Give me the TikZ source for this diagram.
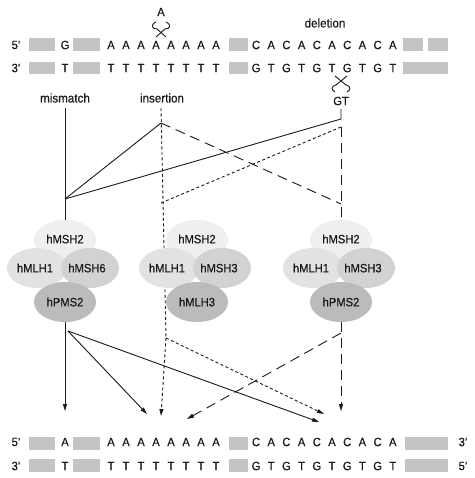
\documentclass[tikz,border=0pt]{standalone}
\usepackage{fontspec}
\setmainfont{Liberation Sans}[FakeStretch=0.93,FakeBold=0.6]
\usetikzlibrary{arrows.meta}
\definecolor{cA}{HTML}{EFEFEF}
\definecolor{cB}{HTML}{E2E2E2}
\definecolor{cC}{HTML}{D2D2D2}
\definecolor{cD}{HTML}{BBBBBB}
\definecolor{boxc}{HTML}{C4C4C4}
\definecolor{ink}{HTML}{1A1A1A}
\tikzset{
  dnabox/.style={fill=boxc,draw=none},
  base/.style={font=\fontsize{12}{14}\selectfont,text=ink,inner sep=0pt},
  lab/.style={font=\fontsize{12.5}{14}\selectfont,text=ink,inner sep=0pt},
  prot/.style={font=\fontsize{12}{14}\selectfont,text=ink,inner sep=0pt},
  conn/.style={draw=ink,line width=0.9pt},
  dotl/.style={conn,dash pattern=on 3pt off 2.5pt},
  dashl/.style={conn,dash pattern=on 10pt off 6pt},
  tip/.style={-{Triangle[length=7pt,width=4pt]}},
  brace/.style={draw=ink,line width=0.9pt}
}
\newcommand{\cplx}[6]{%
  \fill[cA] (#1,240) ellipse [x radius=31, y radius=20];
  \node[prot] (#2t) at (#1,239) {#3};
  \fill[cB] (#1-28,268) ellipse [x radius=30, y radius=20];
  \node[prot] (#2l) at (#1-30,268) {#4};
  \fill[cC] (#1+25,268) ellipse [x radius=29, y radius=20];
  \node[prot] (#2r) at (#1+22,268) {#5};
  \fill[cD] (#1,302) ellipse [x radius=31, y radius=20];
  \node[prot] (#2b) at (#1,302) {#6};
}
\begin{document}
\begin{tikzpicture}[x=1pt,y=-1pt]
\useasboundingbox (0,0) rectangle (474,478);
\fill[white] (0,0) rectangle (474,478);

% ---------- top DNA ----------
\node[base] (t5) at (16,45) {5’};
\node[base] (t3) at (16,68) {3’};
\fill[dnabox] (29,38) rectangle (55,51);
\fill[dnabox] (73,38) rectangle (100,51);
\fill[dnabox] (229,38) rectangle (248,51);
\fill[dnabox] (403,38) rectangle (423,51);
\fill[dnabox] (428,38) rectangle (448,51);
\fill[dnabox] (29,62) rectangle (55,74);
\fill[dnabox] (73,62) rectangle (100,74);
\fill[dnabox] (229,62) rectangle (248,74);
\fill[dnabox] (403,62) rectangle (448,74);
\node[base] (tg) at (65,45) {G};
\node[base] (tt) at (65,68) {T};
\foreach \i in {0,...,7} {
  \node[base] (ta\i) at (111+15*\i,45) {A};
  \node[base] (tb\i) at (111+15*\i,68) {T};
}
\foreach \i/\u/\l in {0/C/G,1/A/T,2/C/G,3/A/T,4/C/G,5/A/T,6/C/G,7/A/T,8/C/G,9/A/T} {
  \node[base] (tc\i) at (256+15.2*\i,45) {\u};
  \node[base] (td\i) at (256+15.2*\i,68) {\l};
}

% insertion brace
\node[base] (insA) at (161,12) {A};
\draw[brace] (156,22) .. controls (150,25) and (152,29) .. (157,29) -- (166,37);
\draw[brace] (166,22) .. controls (172,25) and (170,29) .. (165,29) -- (156,37);
% deletion brace
\node[lab] (del) at (325,23) {deletion};
\draw[brace] (335,76) -- (346,85) .. controls (351,86) and (351,90) .. (347,92);
\draw[brace] (347,76) -- (336,85) .. controls (331,86) and (331,90) .. (335,92);
\node[base] (gt) at (341,101) {GT};

\node[lab] (mm) at (65,98) {mismatch};
\node[lab] (ins) at (162,98) {insertion};

% ---------- coordinates ----------
\coordinate (mmTop) at (65,108);
\coordinate (junc) at (65,199);
\coordinate (insTop) at (161,108);
\coordinate (insJ) at (161,123);
\coordinate (insL) at (161,203);
\coordinate (gtTop) at (341,109);
\coordinate (gtJ) at (341,119);
\coordinate (gtD) at (341,127);
\coordinate (delL) at (341,204);
\coordinate (c1in) at (65,222);
\coordinate (c3in) at (341,222);
\coordinate (c1out) at (65,322);
\coordinate (c1s) at (68,331);
\coordinate (c2s) at (166,338);
\coordinate (c3out) at (341,322);
\coordinate (c3s) at (341,333);
\coordinate (e1) at (65,411);
\coordinate (e2) at (147,414);
\coordinate (e3) at (319,422);
\coordinate (e4) at (161,416);
\coordinate (e5) at (324,414);
\coordinate (e6) at (187,419);
\coordinate (e7) at (341,411);

% ---------- upper connectors ----------
\draw[conn] (mmTop) -- (c1in);
\draw[conn] (junc) -- (insJ);
\draw[conn] (gtTop) -- (gtJ) -- (junc);
\draw[dotl] (insTop) -- (c2s);
\draw[dotl] (gtD) -- (insL);
\draw[dashl] (insJ) -- (delL);
\draw[dashl] (gtD) -- (c3in);

% ---------- lower connectors ----------
\draw[conn,tip] (c1out) -- (e1);
\draw[conn,tip] (c1s) -- (e2);
\draw[conn,tip] (c1s) -- (e3);
\draw[dotl,tip] (c2s) -- (e4);
\draw[dotl,tip] (c2s) -- (e5);
\draw[dashl,tip] (c3s) -- (e6);
\draw[dashl,tip] (c3out) -- (e7);

% ---------- complexes ----------
\cplx{65}{p}{hMSH2}{hMLH1}{hMSH6}{hPMS2}
\cplx{197}{q}{hMSH2}{hMLH1}{hMSH3}{hMLH3}
\cplx{341}{r}{hMSH2}{hMLH1}{hMSH3}{hPMS2}

% ---------- bottom DNA ----------
\node[base] (b5) at (16,442) {5’};
\node[base] (b3) at (16,466) {3’};
\node[base] (b3r) at (463,442) {3’};
\node[base] (b5r) at (463,466) {5’};
\fill[dnabox] (29,437) rectangle (55,450);
\fill[dnabox] (73,437) rectangle (100,450);
\fill[dnabox] (229,437) rectangle (248,450);
\fill[dnabox] (405,437) rectangle (448,450);
\fill[dnabox] (29,459) rectangle (55,472);
\fill[dnabox] (73,459) rectangle (100,472);
\fill[dnabox] (229,459) rectangle (248,472);
\fill[dnabox] (405,459) rectangle (448,472);
\node[base] (ba) at (65,442) {A};
\node[base] (bt) at (65,466) {T};
\foreach \i in {0,...,7} {
  \node[base] (ba\i) at (111+15*\i,442) {A};
  \node[base] (bb\i) at (111+15*\i,466) {T};
}
\foreach \i/\u/\l in {0/C/G,1/A/T,2/C/G,3/A/T,4/C/G,5/A/T,6/C/G,7/A/T,8/C/G,9/A/T} {
  \node[base] (bc\i) at (256+15.2*\i,442) {\u};
  \node[base] (bd\i) at (256+15.2*\i,466) {\l};
}
\end{tikzpicture}
\end{document}
